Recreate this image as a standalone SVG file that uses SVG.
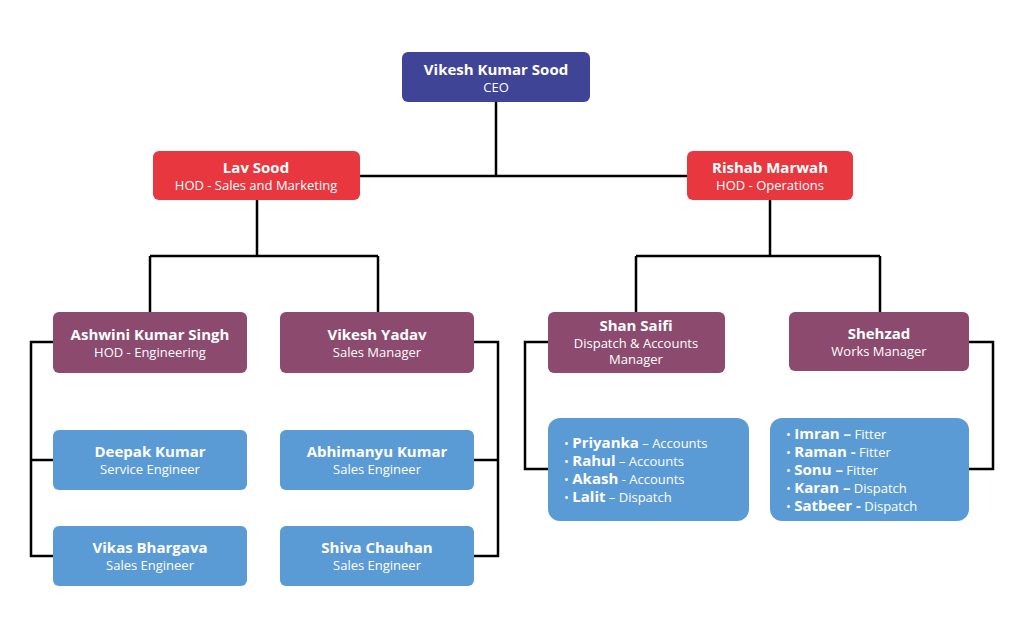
<svg xmlns="http://www.w3.org/2000/svg" width="1024" height="640" viewBox="0 0 1024 640">
<style>
.n{font-family:"Open Sans","Liberation Sans",sans-serif;fill:#fff;text-anchor:middle}
.b{font-weight:700;font-size:15px}
.s{font-size:13px}
.l{font-family:"Open Sans","Liberation Sans",sans-serif;fill:#fff;font-size:13px}
.l tspan.k{font-weight:700;font-size:15px}
.c{fill:none;stroke:#000;stroke-width:2.5}
</style>
<rect width="1024" height="640" fill="#fff"/>
<g id="connectors" class="c">
<path d="M496 102V176M360 176H687"/>
<path d="M257 200V256M150 256H378M150 256V312M378 256V312"/>
<path d="M770 200V256M636 256H880M636 256V312M880 256V312"/>
<path d="M53 342H31V556H53M31 460H53"/>
<path d="M474 342H498V556H474M498 460H474"/>
<path d="M548 342H525V469H548"/>
<path d="M969 342H993V469H969"/>
</g>
<g id="ceo"><rect x="402" y="52" width="188" height="50" rx="6" fill="#3f4496"/><text class="n b" x="496" y="75">Vikesh Kumar Sood</text><text class="n s" x="496" y="92">CEO</text></g>
<g id="lav"><rect x="153" y="151" width="207" height="49" rx="6" fill="#e8373f"/><text class="n b" x="256" y="173">Lav Sood</text><text class="n s" x="256" y="190">HOD - Sales and Marketing</text></g>
<g id="rishab"><rect x="687" y="151" width="166" height="49" rx="6" fill="#e8373f"/><text class="n b" x="770" y="173">Rishab Marwah</text><text class="n s" x="770" y="190">HOD - Operations</text></g>
<g id="ashwini"><rect x="53" y="312" width="194" height="61" rx="6" fill="#8b4a6e"/><text class="n b" x="150" y="340">Ashwini Kumar Singh</text><text class="n s" x="150" y="357">HOD - Engineering</text></g>
<g id="vikeshy"><rect x="280" y="312" width="194" height="61" rx="6" fill="#8b4a6e"/><text class="n b" x="377" y="340">Vikesh Yadav</text><text class="n s" x="377" y="357">Sales Manager</text></g>
<g id="shan"><rect x="548" y="312" width="177" height="61" rx="6" fill="#8b4a6e"/><text class="n b" x="636" y="331">Shan Saifi</text><text class="n s" x="636" y="348">Dispatch &amp; Accounts</text><text class="n s" x="636" y="364">Manager</text></g>
<g id="shehzad"><rect x="789" y="312" width="180" height="59" rx="6" fill="#8b4a6e"/><text class="n b" x="879" y="339">Shehzad</text><text class="n s" x="879" y="356">Works Manager</text></g>
<g id="deepak"><rect x="53" y="430" width="194" height="60" rx="6" fill="#5b9bd5"/><text class="n b" x="150" y="457">Deepak Kumar</text><text class="n s" x="150" y="474">Service Engineer</text></g>
<g id="vikas"><rect x="53" y="526" width="194" height="60" rx="6" fill="#5b9bd5"/><text class="n b" x="150" y="553">Vikas Bhargava</text><text class="n s" x="150" y="570">Sales Engineer</text></g>
<g id="abhimanyu"><rect x="280" y="430" width="194" height="60" rx="6" fill="#5b9bd5"/><text class="n b" x="377" y="457">Abhimanyu Kumar</text><text class="n s" x="377" y="474">Sales Engineer</text></g>
<g id="shiva"><rect x="280" y="526" width="194" height="60" rx="6" fill="#5b9bd5"/><text class="n b" x="377" y="553">Shiva Chauhan</text><text class="n s" x="377" y="570">Sales Engineer</text></g>
<g id="team1"><rect x="548" y="418" width="201" height="103" rx="12" fill="#5b9bd5"/>
<text class="l" x="564" y="448">•  <tspan class="k">Priyanka</tspan> – Accounts</text>
<text class="l" x="564" y="466">•  <tspan class="k">Rahul</tspan> – Accounts</text>
<text class="l" x="564" y="484">•  <tspan class="k">Akash</tspan> - Accounts</text>
<text class="l" x="564" y="502">•  <tspan class="k">Lalit</tspan> – Dispatch</text></g>
<g id="team2"><rect x="770" y="418" width="199" height="103" rx="12" fill="#5b9bd5"/>
<text class="l" x="786" y="439">•  <tspan class="k">Imran –</tspan> Fitter</text>
<text class="l" x="786" y="457">•  <tspan class="k">Raman -</tspan> Fitter</text>
<text class="l" x="786" y="475">•  <tspan class="k">Sonu –</tspan> Fitter</text>
<text class="l" x="786" y="493">•  <tspan class="k">Karan –</tspan> Dispatch</text>
<text class="l" x="786" y="511">•  <tspan class="k">Satbeer -</tspan> Dispatch</text></g>
</svg>
